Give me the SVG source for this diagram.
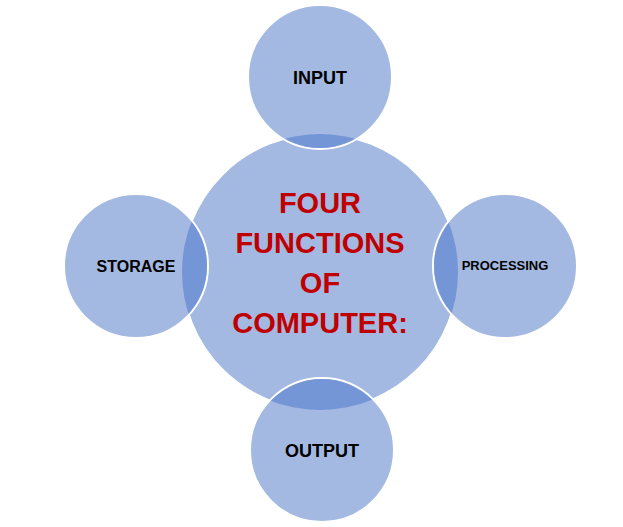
<svg xmlns="http://www.w3.org/2000/svg" width="623" height="527" viewBox="0 0 623 527">
<style>
.c{fill:#a3b9e1;stroke:#fff;stroke-width:2}
.o{fill:#7596d6;stroke:none}
.t{font-family:"Liberation Sans",Arial,sans-serif;font-weight:bold;fill:#000;text-anchor:middle}
.m{font-family:"Liberation Sans",Arial,sans-serif;font-weight:bold;fill:#c00000;text-anchor:middle;font-size:29px}
</style>
<defs><clipPath id="big"><circle cx="320" cy="272" r="138"/></clipPath></defs>
<rect width="623" height="527" fill="#fff"/>
<g id="center"><circle class="c" cx="320" cy="272" r="138"/>
<text class="m" x="320" y="213">FOUR</text>
<text class="m" x="320" y="253">FUNCTIONS</text>
<text class="m" x="320" y="293">OF</text>
<text class="m" x="320" y="333">COMPUTER:</text></g>
<g id="input"><circle class="c" cx="320" cy="77" r="72"/><circle class="o" cx="320" cy="77" r="71" clip-path="url(#big)"/><text class="t" x="320" y="84" font-size="18">INPUT</text></g>
<g id="processing"><circle class="c" cx="505" cy="266" r="72"/><circle class="o" cx="505" cy="266" r="71" clip-path="url(#big)"/><text class="t" x="505" y="270" font-size="13">PROCESSING</text></g>
<g id="output"><circle class="c" cx="322" cy="450" r="72"/><circle class="o" cx="322" cy="450" r="71" clip-path="url(#big)"/><text class="t" x="322" y="457" font-size="18">OUTPUT</text></g>
<g id="storage"><circle class="c" cx="136" cy="266" r="72"/><circle class="o" cx="136" cy="266" r="71" clip-path="url(#big)"/><text class="t" x="136" y="272" font-size="16">STORAGE</text></g>
<g id="connectors"/>
</svg>
